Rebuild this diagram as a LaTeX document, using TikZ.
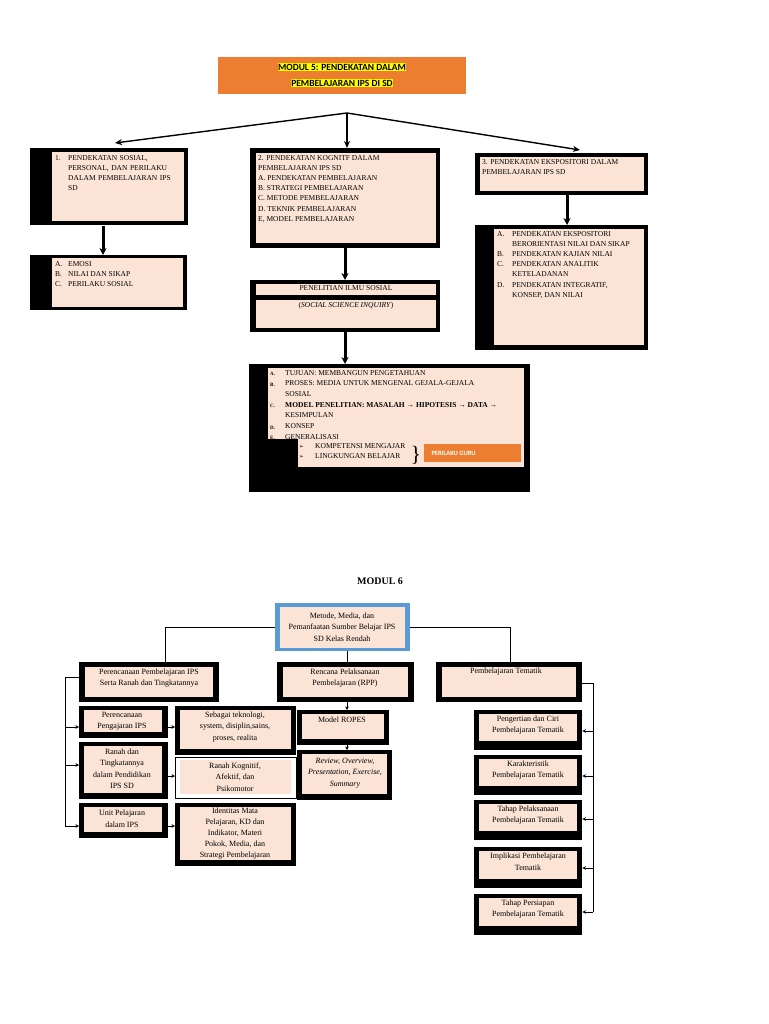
\documentclass[tikz,border=0pt]{standalone}
\usepackage{fontspec}
\setmainfont{Liberation Serif}
\newfontfamily\carl{Carlito}
\newfontfamily\dvs{DejaVu Sans}
\usetikzlibrary{arrows.meta}
\definecolor{pk}{HTML}{FBE4D5}
\definecolor{orng}{HTML}{ED7D31}
\definecolor{blu}{HTML}{5B9BD5}
\definecolor{yl}{HTML}{FFFF00}
\tikzset{x=1pt,y=-1pt,
 tx/.style={anchor=north west,inner sep=0,align=left,font=\fontsize{7.5}{10.2}\selectfont},
 tc/.style={inner sep=0,align=center,font=\fontsize{8}{11.5}\selectfont},
 big/.style={-{Stealth[length=7pt,width=7pt]},line width=3pt},
 fan/.style={-{Stealth[length=7pt,width=6pt]},line width=1.4pt},
 con/.style={line width=0.6pt},
 sa/.style={-{Stealth[length=3.5pt,width=3.5pt]},line width=0.6pt}}
% name x1 y1 x2 y2 ; inner left top right bottom
\newcommand\bx[9]{\node[fill=black,inner sep=0,anchor=north west,minimum width={((#4)-(#2))*1pt},minimum height={((#5)-(#3))*1pt}] (#1) at (#2,#3) {};
\fill[pk] ({#2+#6},{#3+#7}) rectangle ({#4-#8},{#5-#9});}
\begin{document}
\begin{tikzpicture}
\useasboundingbox (0,0) rectangle (768,1024);
\fill[white] (0,0) rectangle (768,1024);
% ---------- MODUL 5 ----------
\node[fill=orng,anchor=north west,minimum width=248pt,minimum height=37pt,inner sep=0] (t5) at (218,57) {};
\node[inner sep=0.5pt,fill=yl,font=\carl\bfseries\fontsize{9.5}{10}\selectfont] at (342,67) {MODUL 5: PENDEKATAN DALAM};
\node[inner sep=0.5pt,fill=yl,font=\carl\bfseries\fontsize{9.5}{10}\selectfont] at (342,83) {PEMBELAJARAN IPS DI SD};
\coordinate (apex) at (347,113);
\bx{b1}{30}{148}{188}{225}{22}{4}{4}{4}
\bx{b1b}{30}{255}{187}{310}{22}{3}{4}{3}
\bx{b2}{250}{148}{440}{248}{6}{5}{4}{5}
\bx{pn}{250}{280}{440}{332}{6}{4}{4}{4}
\fill[black] (256,295) rectangle (436,300);
\bx{b3}{475}{153}{648}{195}{5}{4}{4}{4}
\bx{b3b}{475}{225}{648}{350}{19}{4}{4}{5}
\bx{bb}{249}{364}{530}{492}{19}{4}{6}{53}
\fill[pk] (298,438) rectangle (524,467);
\coordinate (l1) at (115,143);
\coordinate (l3) at (580,150);
\draw[fan] (apex) -- (l1);
\draw[fan] (apex) -- (apex |- b2.north);
\draw[fan] (apex) -- (l3);
\draw[big] (103,226) -- (b1b.north -| 103,0);
\draw[big] (b2.south -| 345,0) -- (pn.north -| 345,0);
\draw[big] (pn.south -| 345,0) -- (bb.north -| 345,0);
\draw[big] (b3.south -| 567,0) -- (b3b.north -| 567,0);
\node[tx] at (55,155) {1.};
\node[tx,text width=130pt] at (68,155) {PENDEKATAN SOSIAL,\\PERSONAL, DAN PERILAKU\\DALAM PEMBELAJARAN IPS\\SD};
\node[tx] at (55,261) {A.\\B.\\C.};
\node[tx] at (68,261) {EMOSI\\NILAI DAN SIKAP\\PERILAKU SOSIAL};
\node[tx] at (258,155) {2. PENDEKATAN KOGNITF DALAM\\PEMBELAJARAN IPS SD\\A. PENDEKATAN PEMBELAJARAN\\B. STRATEGI PEMBELAJARAN\\C. METODE PEMBELAJARAN\\D. TEKNIK PEMBELAJARAN\\E, MODEL PEMBELAJARAN};
\node[tx,anchor=north] at (346,285) {PENELITIAN ILMU SOSIAL};
\node[tx,anchor=north] at (346,302) {(\textit{SOCIAL SCIENCE INQUIRY})};
\node[tx] at (482,159) {3. PENDEKATAN EKSPOSITORI DALAM\\PEMBELAJARAN IPS SD};
\node[tx] at (497,231) {A.\\\\B.\\C.\\\\D.};
\node[tx] at (512,231) {PENDEKATAN EKSPOSITORI\\BERORIENTASI NILAI DAN SIKAP\\PENDEKATAN KAJIAN NILAI\\PENDEKATAN ANALITIK\\KETELADANAN\\PENDEKATAN INTEGRATIF,\\KONSEP, DAN NILAI};
\node[tx,font=\fontsize{5}{10.7}\selectfont\bfseries] at (270,372) {A.\\B.\\\\C.\\\\D.\\E.};
\node[tx,font=\fontsize{7.5}{10.7}\selectfont] at (285,370) {TUJUAN: MEMBANGUN PENGETAHUAN\\PROSES: MEDIA UNTUK MENGENAL GEJALA-GEJALA\\SOSIAL\\\textbf{MODEL PENELITIAN: MASALAH → HIPOTESIS → DATA →}\\KESIMPULAN\\KONSEP\\GENERALISASI};
\node[tx,font=\dvs\fontsize{5.5}{10.5}\selectfont] at (299,445) {➢\\➢};
\node[tx,font=\fontsize{7.5}{10.5}\selectfont] at (315,443) {KOMPETENSI MENGAJAR\\LINGKUNGAN BELAJAR};
\node[font=\fontsize{22}{22}\selectfont,inner sep=0] at (416,455) {\}};
\node[fill=orng,anchor=north west,minimum width=97pt,minimum height=18pt,inner sep=0] (pg) at (424,444) {};
\node[font=\carl\bfseries\fontsize{6.5}{7}\selectfont,text=white,anchor=west] at (428,453) {PERILAKU GURU};
% ---------- MODUL 6 ----------
\node[font=\bfseries\fontsize{10}{12}\selectfont] at (380,581) {MODUL 6};
\node[fill=blu,anchor=north west,minimum width=135pt,minimum height=48pt,inner sep=0] (top) at (275,603) {};
\fill[pk] (280,607) rectangle (405,648);
\node[tc] at (342,627) {Metode, Media, dan\\Pemanfaatan Sumber Belajar IPS\\SD Kelas Rendah};
\bx{r1}{79}{662}{219}{702}{6}{5}{6}{5}
\bx{r2}{277}{662}{414}{702}{6}{5}{6}{5}
\bx{r3}{436}{662}{582}{702}{6}{5}{6}{5}
\draw[con] (top.west) -| (r1.north -| 165,0);
\draw[con] (top.east) -| (r3.north -| 510,0);
\draw[con] (top.south -| 347,0) -- (r2.north -| 347,0);
\node[tc] at (149,678) {Perencanaan Pembelajaran IPS\\Serta Ranah dan Tingkatannya};
\node[tc] at (345,678) {Rencana Pelaksanaan\\Pembelajaran (RPP)};
\node[tc] at (506,672) {Pembelajaran Tematik};
% left column
\bx{p1}{79}{706}{168}{738}{5}{4}{6}{6}
\bx{p2}{79}{742}{168}{799}{5}{4}{6}{6}
\bx{p3}{79}{803}{168}{838}{5}{4}{6}{6}
\node[tc] at (122,721) {Perencanaan\\Pengajaran IPS};
\node[tc] at (122,769) {Ranah dan\\Tingkatannya\\dalam Pendidikan\\IPS SD};
\node[tc] at (122,819) {Unit Pelajaran\\dalam IPS};
\coordinate (lv) at (65,677);
\draw[con] (r1.west |- 0,677) -- (lv) -- (65,826);
\draw[sa] (65,727) -- (p1.west |- 0,727);
\draw[sa] (65,765) -- (p2.west |- 0,765);
\draw[sa] (65,826) -- (p3.west |- 0,826);
\bx{q1}{175}{706}{296}{755}{5}{4}{5}{6}
\node[draw=black,line width=0.6pt,fill=white,anchor=north west,minimum width=121pt,minimum height=41pt,inner sep=0] (q2) at (175,757) {};
\fill[pk] (180,760) rectangle (291,794);
\bx{q3}{175}{803}{296}{866}{5}{4}{5}{6}
\node[tc] at (235,727) {Sebagai teknologi,\\system, disiplin,sains,\\proses, realita};
\node[tc] at (235,777) {Ranah Kognitif,\\Afektif, dan\\Psikomotor};
\node[tc,font=\fontsize{8}{11}\selectfont] at (235,834) {Identitas Mata\\Pelajaran, KD dan\\Indikator, Materi\\Pokok, Media, dan\\Strategi Pembelajaran};
\draw[sa] (p1.east |- 0,727) -- (q1.west |- 0,727);
\draw[sa] (p2.east |- 0,776) -- (q2.west |- 0,776);
\draw[sa] (p3.east |- 0,826) -- (q3.west |- 0,826);
% middle column
\bx{m1}{297}{710}{389}{745}{5}{4}{5}{6}
\bx{m2}{297}{750}{392}{800}{5}{4}{5}{6}
\draw[sa] (r2.south -| 347,0) -- (m1.north -| 347,0);
\draw[sa] (m1.south -| 347,0) -- (m2.north -| 347,0);
\node[tc] at (342,720) {Model ROPES};
\node[tc,font=\itshape\fontsize{8}{11.5}\selectfont] at (345,773) {Review, Overview,\\Presentation, Exercise,\\Summary};
% right column
\bx{s1}{474}{710}{582}{750}{5}{4}{5}{9}
\bx{s2}{474}{755}{582}{795}{5}{4}{5}{9}
\bx{s3}{474}{800}{582}{840}{5}{4}{5}{9}
\bx{s4}{474}{847}{582}{888}{5}{4}{5}{9}
\bx{s5}{474}{894}{582}{935}{5}{4}{5}{9}
\node[tc] at (528,725) {Pengertian dan Ciri\\Pembelajaran Tematik};
\node[tc] at (528,770) {Karakteristik\\Pembelajaran Tematik};
\node[tc] at (528,815) {Tahap Pelaksanaan\\Pembelajaran Tematik};
\node[tc] at (528,862) {Implikasi Pembelajaran\\Tematik};
\node[tc] at (528,909) {Tahap Persiapan\\Pembelajaran Tematik};
\coordinate (rv) at (593,683);
\draw[con] (r3.east |- 0,683) -- (rv) -- (593,912);
\draw[sa] (593,731) -- (s1.east |- 0,731);
\draw[sa] (593,776) -- (s2.east |- 0,776);
\draw[sa] (593,819) -- (s3.east |- 0,819);
\draw[sa] (593,868) -- (s4.east |- 0,868);
\draw[sa] (593,912) -- (s5.east |- 0,912);
\end{tikzpicture}
\end{document}
